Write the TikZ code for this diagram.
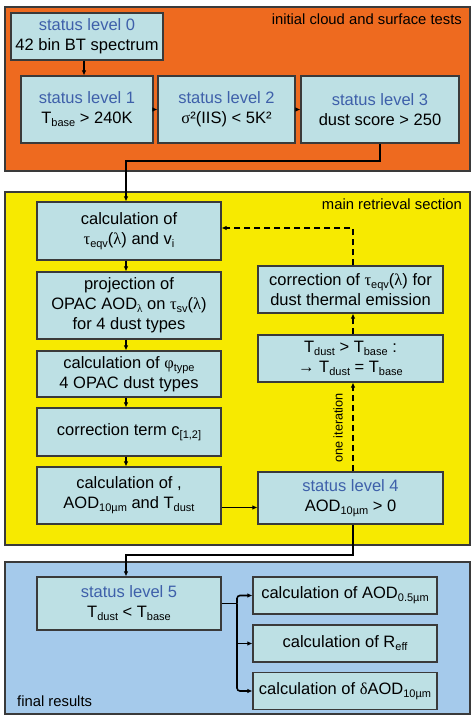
\documentclass[tikz,border=0pt]{standalone}
\usepackage{fontspec}
\setmainfont{Liberation Sans}
\newfontfamily\grk{Liberation Serif}
\usetikzlibrary{arrows.meta}
\definecolor{orng}{HTML}{EE6A1F}
\definecolor{yel}{HTML}{F7EA00}
\definecolor{blu}{HTML}{A5CAEB}
\definecolor{boxfill}{HTML}{BDE0E4}
\definecolor{boxline}{HTML}{3A3A3A}
\definecolor{stblue}{HTML}{3E60AA}
\newcommand\lo[1]{\raisebox{-0.35ex}{\fontsize{11}{11}\selectfont #1}}
\newcommand\stl[1]{{\color{stblue}status level #1}}
\newcommand\gk[1]{{\grk #1}}
\begin{document}
\begin{tikzpicture}[x=1pt,y=-1pt,
  region/.style={draw=boxline,line width=1.3pt},
  box/.style={draw=boxline,line width=1.1pt,fill=boxfill,align=center,inner sep=0pt,
    font=\fontsize{16.5}{20}\selectfont},
  lab/.style={font=\fontsize{14.8}{16}\selectfont,inner sep=0pt},
  conn/.style={line width=1.8pt,black},
  arr/.style={line width=1.6pt,-{Latex[length=5pt,width=4.5pt]}},
  darr/.style={line width=1.8pt,dash pattern=on 6pt off 4pt,-{Latex[length=5pt,width=4.5pt]}}]
\useasboundingbox (0,0) rectangle (474,719);
% regions
\fill[white] (0,0) rectangle (474,719);
\draw[region,fill=orng] (5,7) rectangle (470,171);
\draw[region,fill=yel] (5,192) rectangle (470,545);
\draw[region,fill=blu] (5,562) rectangle (470,714);
\node[lab,anchor=base east] (l1) at (462,25) {initial cloud and surface tests};
\node[lab,anchor=base east] (l2) at (462,210) {main retrieval section};
\node[lab,anchor=base west] (l3) at (17,706) {final results};
% top section
\node[box,minimum width=152,minimum height=47] (b0) at (87,36.5) {\stl{0}\\42 bin BT spectrum};
\node[box,minimum width=132,minimum height=67] (b1) at (87,109.5) {\stl{1}\\T\lo{base} {>} 240K};
\node[box,minimum width=137,minimum height=67] (b2) at (226.5,109.5) {\stl{2}\\\gk{σ}²(IIS) {<} 5K²};
\node[box,minimum width=158,minimum height=67] (b3) at (380,109.5) {\stl{3}\\dust score {>} 250};
\draw[arr] ([xshift=-3pt]b0.south) -- ([xshift=-3pt]b0.south |- b1.north);
\draw[arr] (b1.east) -- (b2.west);
\draw[arr] (b2.east) -- (b3.west);
% main section
\node[box,minimum width=184,minimum height=58] (c1) at (129,231) {calculation of\\\gk{τ}\lo{eqv}(\gk{λ}) and v\lo{i}};
\node[box,minimum width=184,minimum height=67] (c2) at (129,305.5) {projection of\\OPAC AOD\lo{\gk{λ}} on \gk{τ}\lo{sv}(\gk{λ})\\for 4 dust types};
\node[box,minimum width=184,minimum height=46] (c3) at (129,374) {calculation of \gk{φ}\lo{type}\\4 OPAC dust types};
\node[box,minimum width=184,minimum height=48] (c4) at (129,432) {correction term c\lo{[1,2]}};
\node[box,minimum width=184,minimum height=57] (c5) at (129,495.5) {calculation of ,\\AOD\lo{10µm} and T\lo{dust}};
\node[box,minimum width=185,minimum height=52] (s4) at (350.5,498) {\stl{4}\\AOD\lo{10µm} {>} 0};
\node[box,minimum width=185,minimum height=47] (td) at (350.5,358.5) {T\lo{dust} {>} T\lo{base} :\\\gk{→} T\lo{dust} = T\lo{base}};
\node[box,minimum width=185,minimum height=47] (cr) at (350.5,289.5) {correction of \gk{τ}\lo{eqv}(\gk{λ}) for\\dust thermal emission};
\draw[conn] (b3.south) |- (126,161) -- (126,190);
\draw[arr] (126,188) -- ([xshift=-3pt]c1.north);
\foreach \a/\b in {c1/c2,c2/c3,c3/c4,c4/c5}
  \draw[arr] ([xshift=-3pt]\a.south) -- ([xshift=-3pt]\a.south |- \b.north);
\draw[arr] ([yshift=-12pt]c5.east) -- ([yshift=-12pt]c5.east -| s4.west);
\draw[darr] ([xshift=2.5pt]s4.north) -- ([xshift=2.5pt]td.south);
\node[rotate=90,font=\fontsize{12.7}{14}\selectfont,inner sep=0pt] (it) at (338,428) {one iteration};
\draw[darr] ([xshift=2.5pt]td.north) -- ([xshift=2.5pt]cr.south);
\draw[darr] ([xshift=2.5pt]cr.north) |- ([yshift=3pt]c1.east);
% final section
\node[box,minimum width=184,minimum height=53] (s5) at (129,603.5) {\stl{5}\\T\lo{dust} {<} T\lo{base}};
\node[box,minimum width=184,minimum height=37] (ra) at (345,595.5) {calculation of AOD\lo{0.5µm}};
\node[box,minimum width=184,minimum height=37] (rb) at (345,643.5) {calculation of R\lo{eff}};
\node[box,minimum width=184,minimum height=37] (rc) at (345,691) {calculation of \gk{δ}AOD\lo{10µm}};
\draw[conn] ([xshift=2.5pt]s4.south) |- (126,555) -- (126,570);
\draw[arr] (126,568) -- ([xshift=-3pt]s5.north);
\draw[conn] (s5.east) -- (237,603.5);
\draw[arr,rounded corners=3pt] (237,603.5) |- (ra.west);
\draw[arr] (237,603.5) |- (rb.west);
\draw[arr,rounded corners=3pt] (237,603.5) |- (rc.west);
\end{tikzpicture}
\end{document}
